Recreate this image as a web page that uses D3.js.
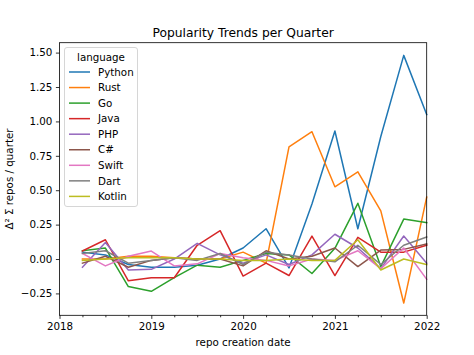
<!DOCTYPE html>
<html><head><meta charset="utf-8">
<script src="https://cdn.jsdelivr.net/npm/d3@7"></script>
<style>body{margin:0;background:#fff}svg{display:block;font-family:"DejaVu Sans",sans-serif}</style>
</head><body><svg id="c" width="474" height="355"></svg>
<script>
const quarters = [2018.25,2018.5,2018.75,2019.0,2019.25,2019.5,2019.75,2020.0,2020.25,2020.5,2020.75,2021.0,2021.25,2021.5,2021.75,2022.0];
const languages = ["Python","Rust","Go","Java","PHP","C#","Swift","Dart","Kotlin"];
const colors = ["#1f77b4","#ff7f0e","#2ca02c","#d62728","#9467bd","#8c564b","#e377c2","#7f7f7f","#bcbd22"];
const python = [0.05,0.03,-0.04,-0.06,-0.06,-0.045,0.0,0.08,0.22,-0.065,0.40,0.93,0.22,0.89,1.48,1.05];
const rust   = [0.0,0.0,0.02,0.02,0.01,0.0,0.0,0.05,-0.03,0.815,0.925,0.525,0.634,0.35,-0.32,0.45];
const go     = [0.06,0.08,-0.20,-0.235,-0.135,-0.045,-0.06,-0.01,0.04,0.03,-0.105,0.078,0.405,-0.055,0.29,0.265];
const java   = [0.058,0.14,-0.158,-0.136,-0.136,0.10,0.206,-0.124,-0.03,-0.12,0.167,-0.12,0.158,0.05,0.05,0.10];
const php    = [-0.06,0.12,-0.08,-0.075,0.0,0.114,0.03,-0.03,0.03,-0.04,0.03,0.18,0.08,-0.07,0.167,-0.03];
const csharp = [-0.03,0.02,-0.06,-0.01,0.01,0.0,0.0,-0.05,0.06,0.0,0.02,0.08,-0.055,0.065,0.07,0.11];
const swift  = [0.04,-0.05,0.02,0.058,-0.05,-0.035,0.04,0.01,-0.01,-0.05,0.0,-0.01,0.06,-0.07,0.08,-0.147];
const dart   = [0.04,0.06,-0.03,-0.01,0.01,-0.01,0.04,-0.04,0.05,0.03,0.0,-0.02,0.10,-0.04,0.10,0.16];
const kotlin = [-0.01,0.0,0.01,0.01,0.01,0.0,0.0,-0.01,-0.01,0.0,-0.01,-0.01,0.14,-0.08,0.0,-0.04];
const series = [python,rust,go,java,php,csharp,swift,dart,kotlin];
const xTicks = [2018,2019,2020,2021,2022];
const yTicks = [-0.25,0,0.25,0.5,0.75,1.0,1.25,1.5];

const svg = d3.select("#c");
const L=59.5,R=426.7,T=42.7,B=315.3;
const x = d3.scaleLinear().domain([2018,2022]).range([L,R]);
const y = d3.scaleLinear().domain([-0.409,1.572]).range([B,T]);

const line = d3.line().x((d,i)=>x(quarters[i])).y(d=>y(d));
const g = svg.append("g");
series.forEach((s,k)=>{
  g.append("path").datum(s).attr("d",line).attr("fill","none")
   .attr("stroke",colors[k]).attr("stroke-width",1.5).attr("stroke-linejoin","round").attr("stroke-linecap","square");
});

svg.append("rect").attr("x",L).attr("y",T).attr("width",R-L).attr("height",B-T)
  .attr("fill","none").attr("stroke","#000").attr("stroke-width",0.8);

const xa = svg.append("g").attr("transform",`translate(0,${B})`)
  .call(d3.axisBottom(x).tickValues(xTicks).tickFormat(d3.format("d")).tickSize(3.6).tickPadding(3.5));
const xm = svg.append("g").attr("transform",`translate(0,${B})`)
  .call(d3.axisBottom(x).tickValues(d3.range(2018,2022.01,0.25).filter(v=>v%1!==0)).tickFormat("").tickSize(2));
const ya = svg.append("g").attr("transform",`translate(${L},0)`)
  .call(d3.axisLeft(y).tickValues(yTicks).tickFormat(d=>d3.format(".2f")(d).replace("-","\u2212")).tickSize(3.6).tickPadding(3.5));
[xa,xm,ya].forEach(a=>{
  a.select(".domain").remove();
  a.selectAll("line").attr("stroke","#000").attr("stroke-width",0.8);
  a.selectAll("text").attr("fill","#000").style("font-size","10.3px").style("font-family","DejaVu Sans");
});

svg.append("text").attr("x",(L+R)/2).attr("y",37).attr("text-anchor","middle")
  .style("font-size","12.3px").text("Popularity Trends per Quarter");
svg.append("text").attr("x",(L+R)/2).attr("y",346).attr("text-anchor","middle")
  .style("font-size","10.3px").text("repo creation date");
svg.append("text").attr("transform",`translate(13,${(T+B)/2}) rotate(-90)`).attr("text-anchor","middle")
  .style("font-size","10.3px").text("\u0394\u00B2 \u03A3 repos / quarter");

const lg = svg.append("g");
lg.append("rect").attr("x",64.5).attr("y",47.5).attr("width",73).attr("height",159).attr("rx",2.5)
  .attr("fill","#fff").attr("fill-opacity",0.8).attr("stroke","#ccc").attr("stroke-width",0.8);
lg.append("text").attr("x",101).attr("y",60.5).attr("text-anchor","middle").style("font-size","10.3px").text("language");
languages.forEach((n,k)=>{
  const yy = 72 + k*15.55;
  lg.append("line").attr("x1",69).attr("x2",90).attr("y1",yy).attr("y2",yy)
    .attr("stroke",colors[k]).attr("stroke-width",1.5);
  lg.append("text").attr("x",98).attr("y",yy+3.7).style("font-size","10.3px").text(n);
});
</script></body></html>
